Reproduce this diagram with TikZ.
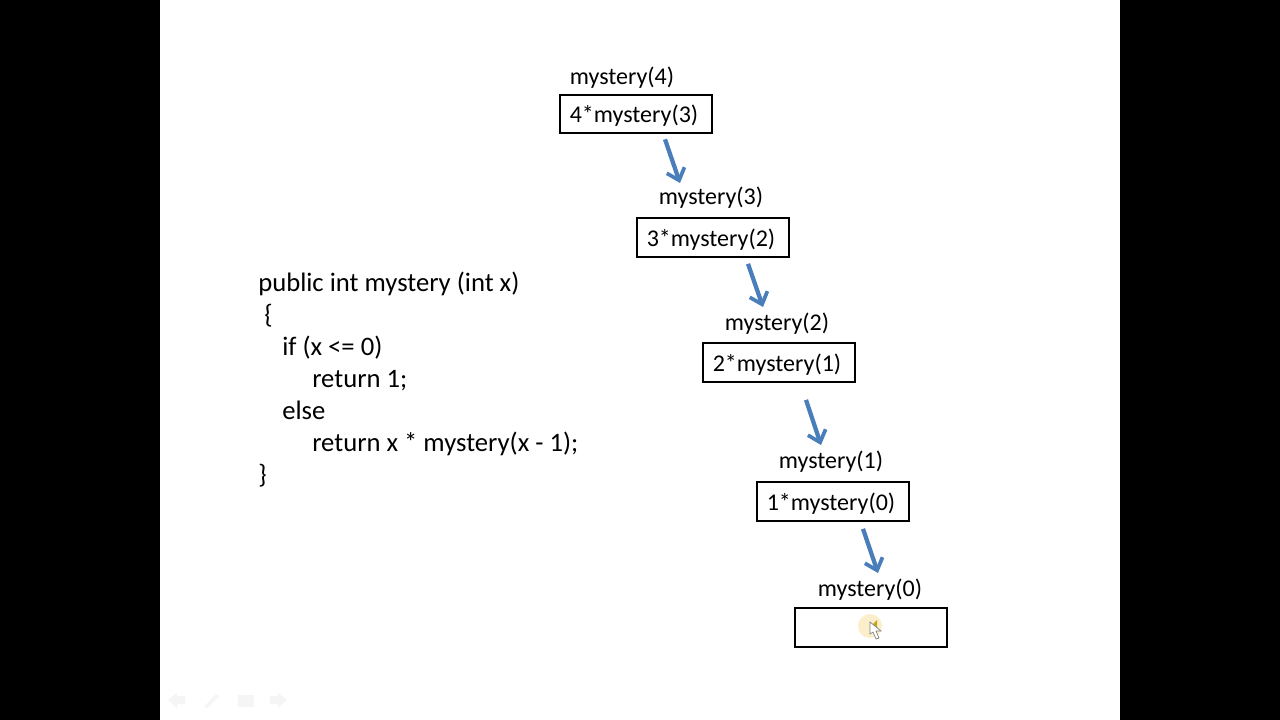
\documentclass[tikz,border=0pt]{standalone}
\usepackage{fontspec}
\setmainfont{Carlito}
\usetikzlibrary{arrows.meta, positioning, calc}

\definecolor{arrowblue}{HTML}{4A7EBB}
\definecolor{navgrey}{HTML}{F5F5F5}
\definecolor{glow}{HTML}{FBEFCB}
\definecolor{pointer}{HTML}{C8A415}

\newcommand{\boxtext}[1]{\raisebox{-6.75pt}[0pt][0pt]{\hspace{-3pt}#1}}

\begin{document}
\begin{tikzpicture}[
  x=0.75pt, y=-0.75pt,
  callbox/.style = {draw, line width=1.5pt, minimum height=29pt, minimum width=114pt, inner sep=0pt, font=\fontsize{18}{22}\selectfont},
  calltext/.style = {inner sep=0pt, font=\fontsize{18}{22}\selectfont},
  arrow/.style = {arrowblue, line width=3.2pt, -{Straight Barb[length=8pt, width=14pt, line width=2.8pt]}},
  navicon/.style = {fill=navgrey, draw=none}
]

  % Page
  \fill[black] (0,0) rectangle (1280,720);
  \fill[white] (160,0) rectangle (1120,720);
  \useasboundingbox (0,0) rectangle (1280,720);

  % Code
  \node[anchor=north west, inner sep=0pt, align=left, font=\fontsize{20}{24}\selectfont] (code) at (258,272) {%
    public int mystery (int x)\\
    \hspace{4.5pt}\{\\
    \hspace{18pt}if (x <= 0)\\
    \hspace{40.5pt}return 1;\\
    \hspace{18pt}else\\
    \hspace{40.5pt}return x * mystery(x - 1);\\
    \}};

  % Calls
  \node[calltext] (call4) at (622,78) {mystery(4)};
  \node[callbox] (box4) at (636,114) {\boxtext{4*mystery(3)}};
  \node[calltext] (call3) at (711,198) {mystery(3)};
  \node[callbox] (box3) at (713,237.5) {\boxtext{3*mystery(2)}};
  \node[calltext] (call2) at (777,324) {mystery(2)};
  \node[callbox] (box2) at (779,362.5) {\boxtext{2*mystery(1)}};
  \node[calltext] (call1) at (831,462) {mystery(1)};
  \node[callbox] (box1) at (833,501.5) {\boxtext{1*mystery(0)}};
  \node[calltext] (call0) at (870,590) {mystery(0)};
  \node[callbox] (box0) at (871,627.5) {};

  % Arrows
  \draw[arrow] ([shift={(29,5)}]box4.south) -- ([shift={(-31,-4)}]call3.north);
  \draw[arrow] ([shift={(35,6)}]box3.south) -- ([shift={(-14,-6)}]call2.north);
  \draw[arrow] ([shift={(27,17)}]box2.south) -- ([shift={(-10,-6)}]call1.north);
  \draw[arrow] ([shift={(30,7)}]box1.south) -- ([shift={(8,-6)}]call0.north);

  % Pointer
  \fill[glow] (870,626) circle (12);
  \fill[pointer] (877,620) -- (877,632) -- (871,626) -- cycle;
  \draw[draw=gray, fill=white, line width=0.5pt] (870,622) -- (870,634) -- (873,632) -- (876,639) -- (879,638) -- (876,631) -- (881,631) -- cycle;

  % Slide controls
  \fill[navicon] (168,700) -- (177,693) -- (177,696) -- (185,696) -- (185,704) -- (177,704) -- (177,708) -- cycle;
  \fill[navicon] (204,707) -- (216,694) -- (219,696) -- (207,708) -- cycle;
  \fill[navicon] (238,695) rectangle (254,707);
  \fill[navicon] (287,700) -- (278,693) -- (278,696) -- (270,696) -- (270,704) -- (278,704) -- (278,708) -- cycle;

\end{tikzpicture}
\end{document}
